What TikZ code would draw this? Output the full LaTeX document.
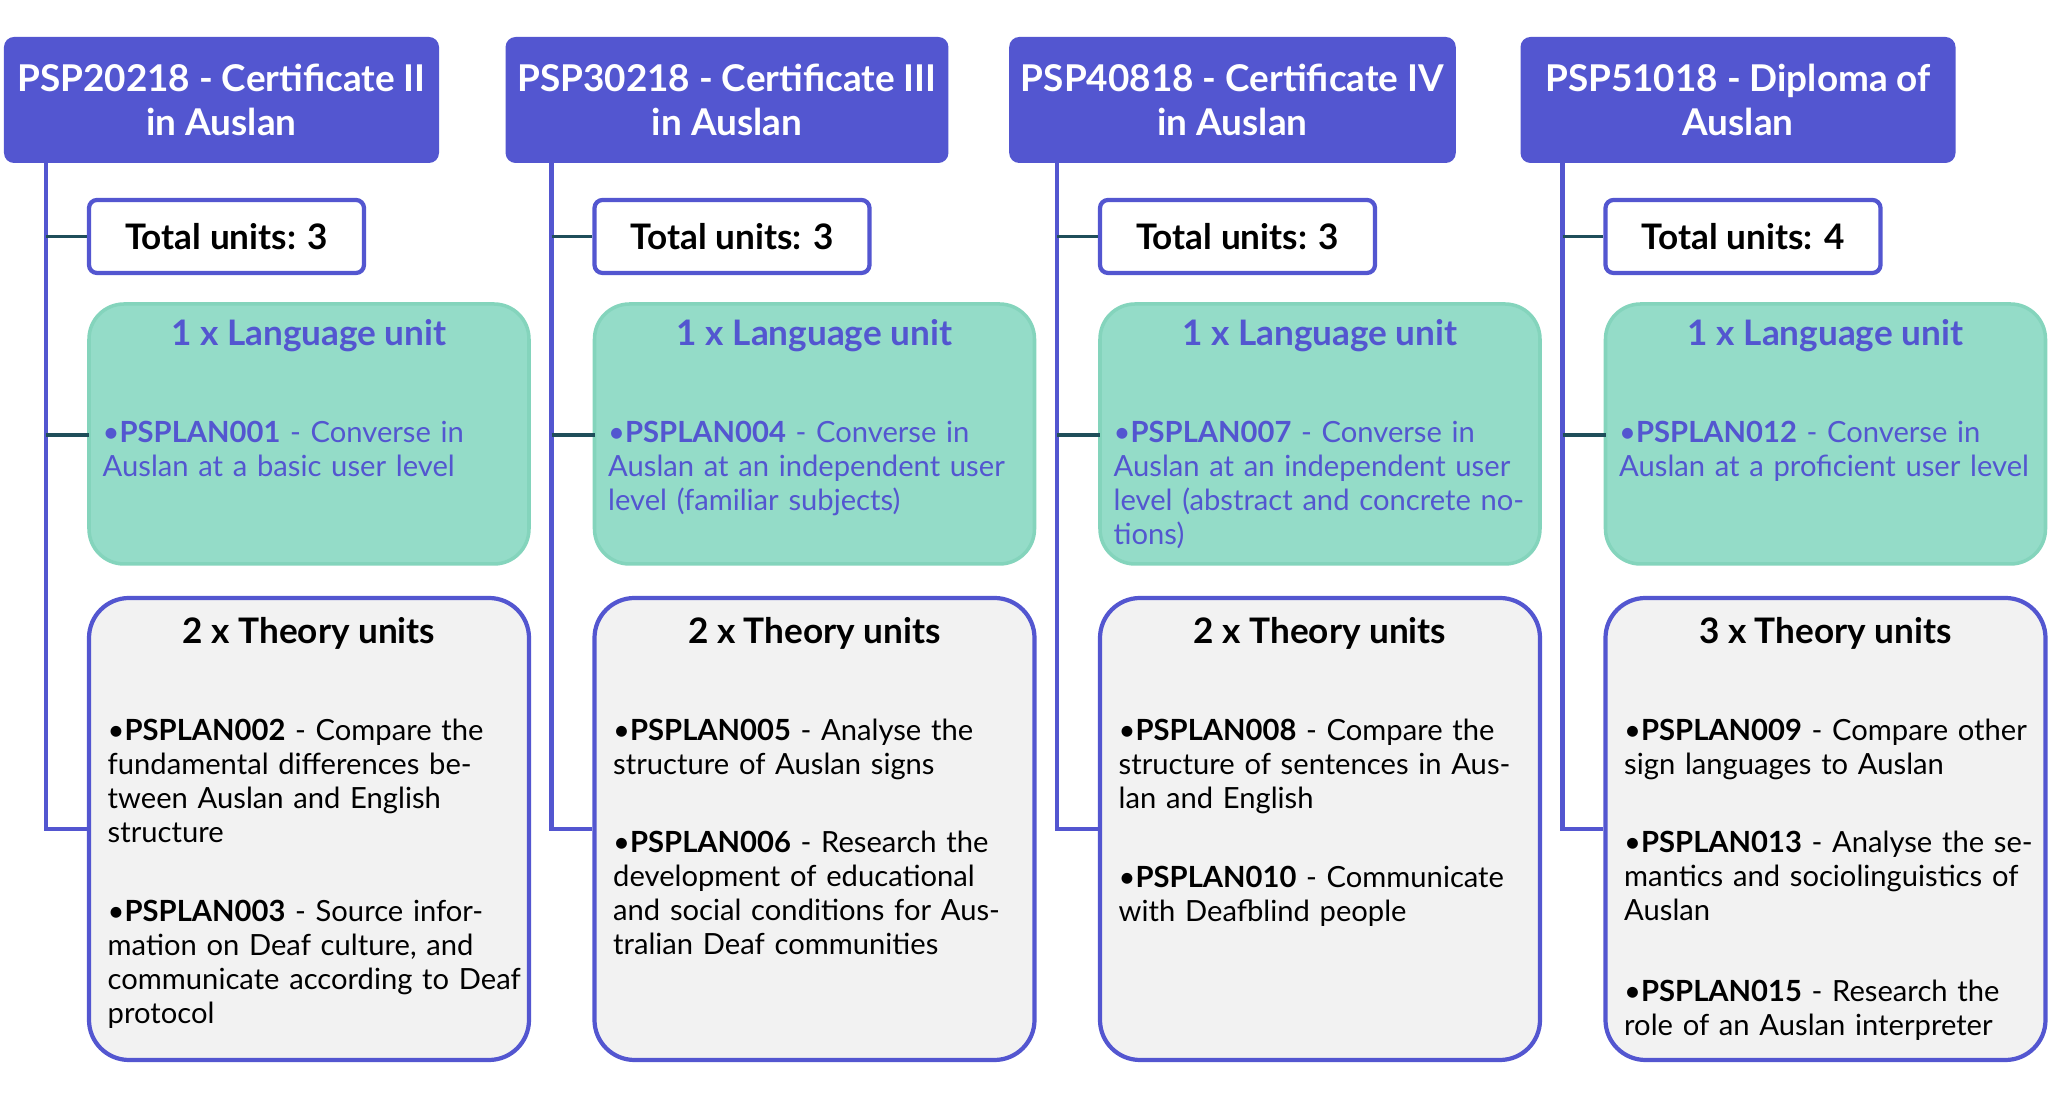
\documentclass[tikz,border=0pt]{standalone}
\usepackage{fontspec}
\setmainfont{Lato}
\usepackage{tikz}
\usetikzlibrary{positioning}
\definecolor{auslanpurple}{HTML}{5356D0}
\definecolor{langgreen}{HTML}{94DCC8}
\definecolor{langedge}{HTML}{84D4BC}
\definecolor{theorygrey}{HTML}{F2F2F2}
\definecolor{stubteal}{HTML}{1F4E5A}
\newcommand{\unititem}[2]{\hangindent=0.75em\hangafter=1\textbullet\textbf{#1} - #2}

\begin{document}
\begin{tikzpicture}[
        qualhead/.style={rectangle, rounded corners=0.1cm, fill=auslanpurple, text=white, font=\fontsize{10.5}{12.6}\selectfont\bfseries, align=center, minimum width=4.35cm, minimum height=1.26cm},
        totalbox/.style={rectangle, rounded corners=0.08cm, draw=auslanpurple, line width=1.2pt, fill=white, font=\fontsize{10}{12}\selectfont\bfseries, minimum width=2.75cm, minimum height=0.73cm},
        langbox/.style={rectangle, rounded corners=0.35cm, draw=langedge, line width=1pt, fill=langgreen, minimum width=4.4cm, minimum height=2.6cm},
        theorybox/.style={rectangle, rounded corners=0.4cm, draw=auslanpurple, line width=1.2pt, fill=theorygrey, minimum width=4.4cm, minimum height=4.62cm},
        boxtitle/.style={font=\fontsize{10}{12}\selectfont\bfseries},
        unittext/.style={font=\fontsize{8.3}{9.75}\selectfont, text width=4.15cm, align=left, anchor=north west, inner sep=0pt},
        spine/.style={draw=auslanpurple, line width=1.3pt},
        stub/.style={draw=stubteal, line width=1.1pt}
    ]
    \useasboundingbox (0,0) rectangle (20.48,-10.95);

    % Columns
    \foreach \col/\head/\total in {0/{PSP20218 - Certificate II\\in Auslan}/3, 1/{PSP30218 - Certificate III\\in Auslan}/3, 2/{PSP40818 - Certificate IV\\in Auslan}/3, 3/{PSP51018 - Diploma of\\Auslan}/4}{
    \begin{scope}[xshift=\col*5.055cm]
    \node[qualhead] (head\col) at (2.215,-1.0) {\head};
    \node[totalbox] (total\col) at (2.265,-2.365) {Total units: \total};
    \node[langbox] (lang\col) at (3.09,-4.34) {};
    \node[theorybox] (theory\col) at (3.09,-8.29) {};
    \coordinate (spinetop\col) at (0.46,-1.63);
    \coordinate (spinebot\col) at (0.46,-8.29);
    \draw[spine] (spinetop\col) -- (spinebot\col) -- (theory\col.west);
    \draw[stub] (total\col.west -| spinetop\col) -- (total\col.west);
    \draw[stub] (0.46,-4.35) -- (0.89,-4.35);
    \node[boxtitle, text=auslanpurple] at (3.09,-3.36) {1 x Language unit};
    \end{scope}
    }

    % Theory titles
    \node[boxtitle] at (theory0.north |- 0,-6.33) {2 x Theory units};
    \node[boxtitle] at (theory1.north |- 0,-6.33) {2 x Theory units};
    \node[boxtitle] at (theory2.north |- 0,-6.33) {2 x Theory units};
    \node[boxtitle] at (theory3.north |- 0,-6.33) {3 x Theory units};

    % Language units
    \node[unittext, text=auslanpurple, text width=4.25cm] (lu0) at (1.02,-4.2) {\unititem{PSPLAN001}{Converse in Auslan at a basic user level}};
    \node[unittext, text=auslanpurple, text width=4.25cm] (lu1) at (6.075,-4.2) {\unititem{PSPLAN004}{Converse in Auslan at an independent user level (familiar subjects)}};
    \node[unittext, text=auslanpurple, text width=4.25cm] (lu2) at (11.13,-4.2) {\unititem{PSPLAN007}{Converse in Auslan at an independent user level (abstract and concrete notions)}};
    \node[unittext, text=auslanpurple, text width=4.25cm] (lu3) at (16.185,-4.2) {\unititem{PSPLAN012}{Converse in Auslan at a proficient user level}};

    % Theory units
    \node[unittext] (tu0a) at (1.07,-7.18) {\unititem{PSPLAN002}{Compare the fundamental differences between Auslan and English structure}};
    \node[unittext] (tu0b) at (1.07,-8.99) {\unititem{PSPLAN003}{Source information on Deaf culture, and communicate according to Deaf protocol}};
    \node[unittext] (tu1a) at (6.125,-7.18) {\unititem{PSPLAN005}{Analyse the structure of Auslan signs}};
    \node[unittext] (tu1b) at (6.125,-8.30) {\unititem{PSPLAN006}{Research the development of educational and social conditions for Australian Deaf communities}};
    \node[unittext] (tu2a) at (11.18,-7.18) {\unititem{PSPLAN008}{Compare the structure of sentences in Auslan and English}};
    \node[unittext] (tu2b) at (11.18,-8.65) {\unititem{PSPLAN010}{Communicate with Deafblind people}};
    \node[unittext, text width=4.3cm] (tu3a) at (16.235,-7.18) {\unititem{PSPLAN009}{Compare other sign languages to Auslan}};
    \node[unittext, text width=4.3cm] (tu3b) at (16.235,-8.30) {\unititem{PSPLAN013}{Analyse the semantics and sociolinguistics of Auslan}};
    \node[unittext, text width=4.3cm] (tu3c) at (16.235,-9.79) {\unititem{PSPLAN015}{Research the role of an Auslan interpreter}};
\end{tikzpicture}
\end{document}
